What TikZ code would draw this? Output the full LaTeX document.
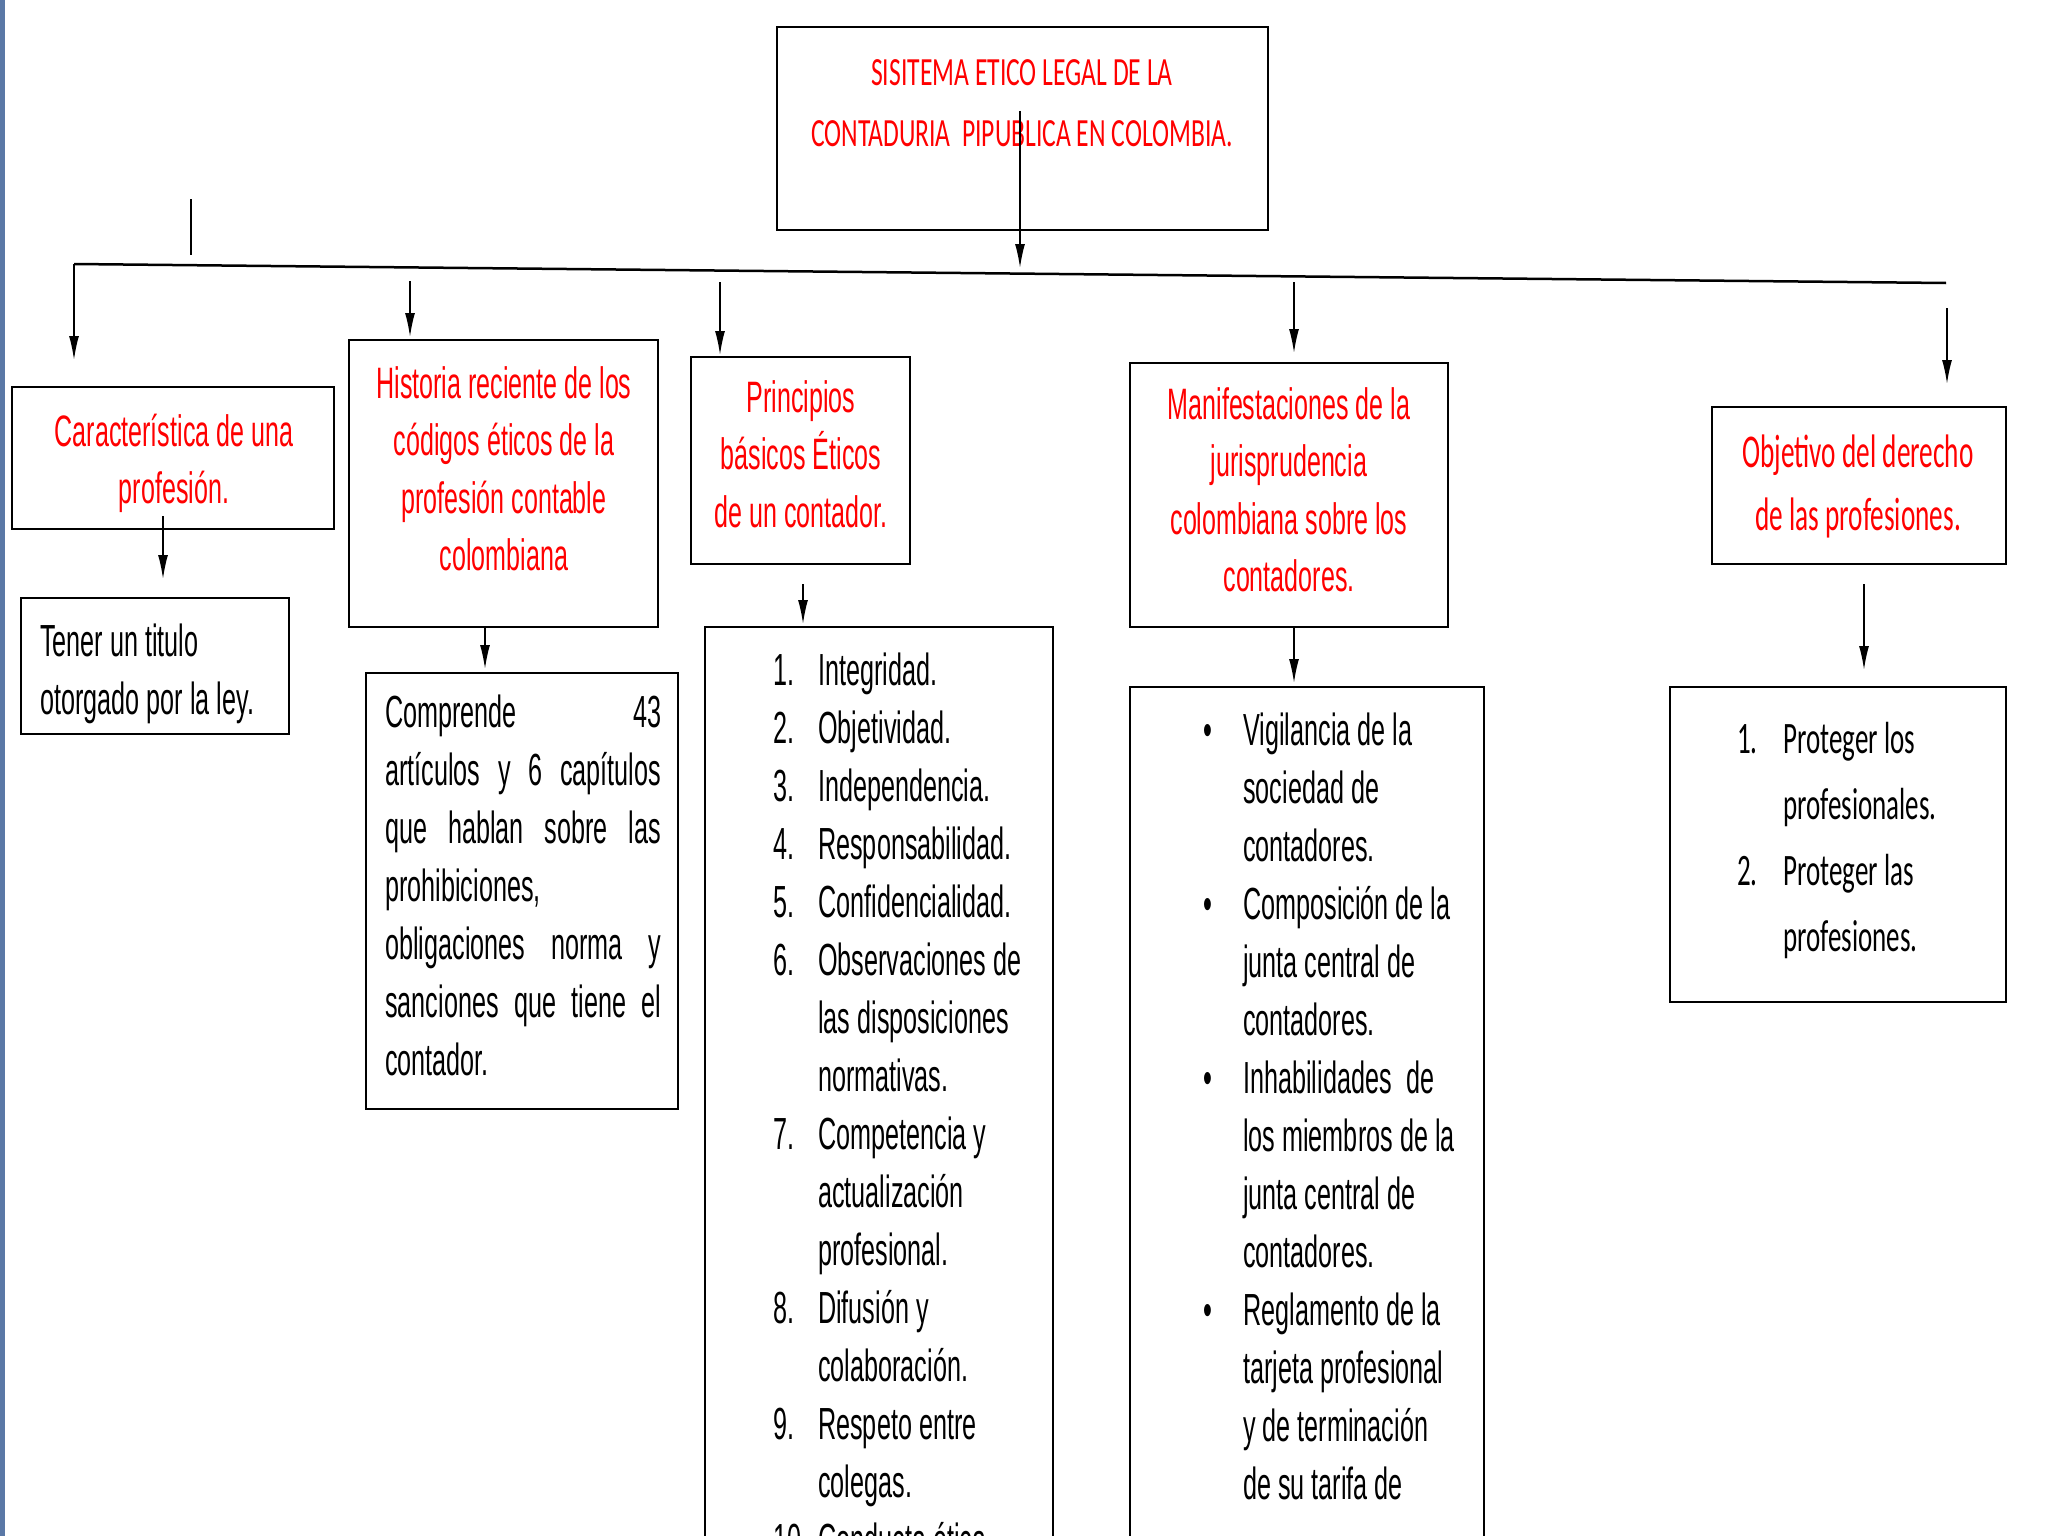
\documentclass[tikz,border=0pt]{standalone}
\usepackage{fontspec}
\usepackage{xcolor}
\usepackage{tikz}
\usetikzlibrary{arrows.meta}
\definecolor{CPRed}{HTML}{FF0000}
\definecolor{CPBand}{HTML}{5A78A6}
\newfontfamily\arialtxt[FakeStretch=0.56]{Liberation Sans}
\newfontfamily\arialred[FakeStretch=0.57]{Liberation Sans}
\newfontfamily\calititle[FakeStretch=0.64]{Carlito}
\newfontfamily\calired[FakeStretch=0.58]{Carlito}
\newfontfamily\calitxt[FakeStretch=0.6]{Carlito}

\begin{document}
\begin{tikzpicture}[x=1pt,y=-1pt,
  cbox/.style={draw,line width=2.5pt,inner sep=0pt,outer sep=0pt},
  flecha/.style={-{Latex[length=24pt,width=10pt]},line width=1.6pt},
  ttxt/.style={text=CPRed,inner sep=0pt,anchor=base,font=\calititle\fontsize{40}{61}\selectfont},
  rtxt/.style={text=CPRed,inner sep=0pt,anchor=base,font=\arialred\fontsize{44}{57.5}\selectfont},
  rtxtc/.style={text=CPRed,inner sep=0pt,anchor=base,font=\calired\fontsize{47}{63}\selectfont},
  ltxt/.style={inner sep=0pt,anchor=base west,font=\arialtxt\fontsize{45}{58}\selectfont},
  ltxtc/.style={inner sep=0pt,anchor=base west,font=\calitxt\fontsize{45}{66}\selectfont}]
\path[use as bounding box] (0,0) rectangle (2048,1536);
\clip (0,0) rectangle (2048,1536);
\fill[white] (0,0) rectangle (2048,1536);
\fill[CPBand] (0,0) rectangle (5,1536);

\node[cbox,minimum width=491pt,minimum height=203pt] (title) at (1022.5,128.5) {};
\node[ttxt] (titletxt) at (1022,86) {\begin{tabular}[t]{@{}c@{}}SISITEMA ETICO LEGAL DE LA\\CONTADURIA\ \ PIPUBLICA EN COLOMBIA.\end{tabular}};

\node[cbox,minimum width=322pt,minimum height=142pt] (b1) at (173,458) {};
\node[rtxt] (b1txt) at (174,446) {\begin{tabular}[t]{@{}c@{}}Característica de una\\profesión.\end{tabular}};
\node[cbox,minimum width=268pt,minimum height=136pt] (c1) at (155,666) {};
\node[ltxt] (c1txt) at (40,656) {\begin{tabular}[t]{@{}l@{}}Tener un titulo\\otorgado por la ley.\end{tabular}};

\node[cbox,minimum width=309pt,minimum height=287pt] (b2) at (503.5,483.5) {};
\node[rtxt] (b2txt) at (504,398) {\begin{tabular}[t]{@{}c@{}}Historia reciente de los\\códigos éticos de la\\profesión contable\\colombiana\end{tabular}};
\node[cbox,minimum width=312pt,minimum height=436pt] (c2) at (522,891) {};
\node[ltxt] (c2txt) at (385,727) {\begin{tabular}[t]{@{}p{276pt}@{}}
Comprende\hfill 43\\
artículos\hfill y\hfill 6\hfill capítulos\\
que\hfill hablan\hfill sobre\hfill las\\
prohibiciones,\\
obligaciones\hfill norma\hfill y\\
sanciones\hfill que\hfill tiene\hfill el\\
contador.\end{tabular}};

\node[cbox,minimum width=219pt,minimum height=207pt] (b3) at (800.5,460.5) {};
\node[rtxt] (b3txt) at (801,412) {\begin{tabular}[t]{@{}c@{}}Principios\\básicos Éticos\\de un contador.\end{tabular}};
\node[cbox,minimum width=348pt,minimum height=973pt] (c3) at (879,1113.5) {};
\node[ltxt] (c3txt) at (773,685) {\begin{tabular}[t]{@{}p{45pt}@{}l@{}}
1. & Integridad.\\
2. & Objetividad.\\
3. & Independencia.\\
4. & Responsabilidad.\\
5. & Confidencialidad.\\
6. & Observaciones de\\
 & las disposiciones\\
 & normativas.\\
7. & Competencia y\\
 & actualización\\
 & profesional.\\
8. & Difusión y\\
 & colaboración.\\
9. & Respeto entre\\
 & colegas.\\
10. & Conducta ética\end{tabular}};

\node[cbox,minimum width=318pt,minimum height=264pt] (b4) at (1289,495) {};
\node[rtxt] (b4txt) at (1289,419) {\begin{tabular}[t]{@{}c@{}}Manifestaciones de la\\jurisprudencia\\colombiana sobre los\\contadores.\end{tabular}};
\node[cbox,minimum width=354pt,minimum height=913pt] (c4) at (1307,1143.5) {};
\node[ltxt] (c4txt) at (1203,745) {\begin{tabular}[t]{@{}p{40pt}@{}l@{}}
• & Vigilancia de la\\
 & sociedad de\\
 & contadores.\\
• & Composición de la\\
 & junta central de\\
 & contadores.\\
• & Inhabilidades\hspace{8pt} de\\
 & los miembros de la\\
 & junta central de\\
 & contadores.\\
• & Reglamento de la\\
 & tarjeta profesional\\
 & y de terminación\\
 & de su tarifa de\end{tabular}};

\node[cbox,minimum width=294pt,minimum height=157pt] (b5) at (1859,485.5) {};
\node[rtxtc] (b5txt) at (1858,467) {\begin{tabular}[t]{@{}c@{}}Objetivo del derecho\\de las profesiones.\end{tabular}};
\node[cbox,minimum width=336pt,minimum height=315pt] (c5) at (1838,844.5) {};
\node[ltxtc] (c5txt) at (1737,753) {\begin{tabular}[t]{@{}p{46pt}@{}l@{}}
1. & Proteger los\\
 & profesionales.\\
2. & Proteger las\\
 & profesiones.\end{tabular}};

\coordinate (busL) at (74,264);
\coordinate (busR) at (1946,283);
\coordinate (busM) at (1020,268);
\coordinate (st1) at (191,199);
\coordinate (st2) at (191,255);
\coordinate (d2) at (410,281);
\coordinate (d3) at (720,282);
\coordinate (d4) at (1294,282);
\coordinate (d5) at (1947,308);

\draw[line width=2.5pt] (busL) -- (busR);
\draw[line width=2pt] (st1) -- (st2);
\draw[flecha] ([xshift=-2.5pt,yshift=17.5pt]title.center) -- (busM);
\draw[flecha] (busL) -- ([xshift=-99pt,yshift=27pt]b1.north);
\draw[flecha] (d2) -- ([xshift=-93.5pt,yshift=3pt]b2.north);
\draw[flecha] (d3) -- ([xshift=-80.5pt,yshift=2pt]b3.north);
\draw[flecha] (d4) -- ([xshift=5pt,yshift=10pt]b4.north);
\draw[flecha] (d5) -- ([xshift=88pt,yshift=23pt]b5.north);

\draw[flecha] ([xshift=-10pt,yshift=13pt]b1.south) -- ([xshift=8pt,yshift=19pt]c1.north);
\draw[flecha] ([xshift=-18.5pt]b2.south) -- ([xshift=-37pt,yshift=4pt]c2.north);
\draw[flecha] ([xshift=2.5pt,yshift=-20pt]b3.south) -- ([xshift=-76pt,yshift=3pt]c3.north);
\draw[flecha] ([xshift=5pt]b4.south) -- ([xshift=-13pt,yshift=4pt]c4.north);
\draw[flecha] ([xshift=5pt,yshift=-20pt]b5.south) -- ([xshift=26pt,yshift=17pt]c5.north);
\end{tikzpicture}
\end{document}
